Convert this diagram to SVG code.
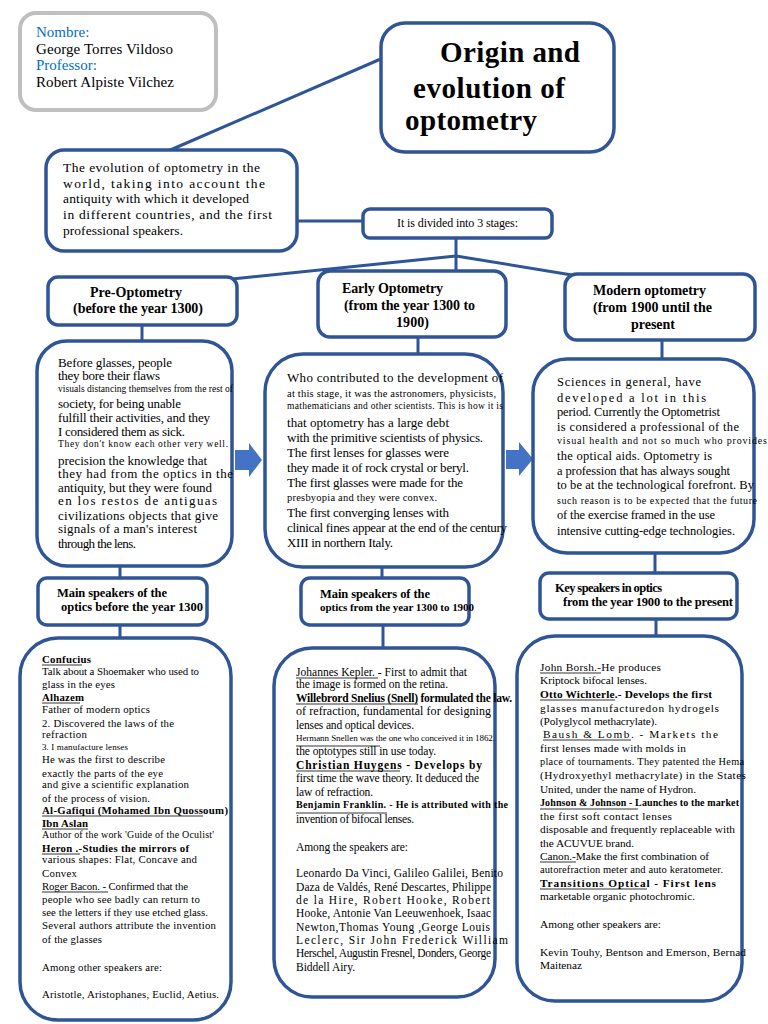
<svg xmlns="http://www.w3.org/2000/svg" width="768" height="1024" viewBox="0 0 768 1024">
<style>
.t{font-family:"Liberation Serif","Times New Roman",serif;fill:#000;font-size:13px}
.b{font-weight:bold}
.s{font-size:11px}
.xs{font-size:9.5px}
.box{fill:#fff;stroke:#2f5597;stroke-width:3.5}
.conn{stroke:#2f5597;stroke-width:3;fill:none}
.ul{stroke:#000;stroke-width:0.8}
.arr{fill:#4472c4}
</style>
<rect width="768" height="1024" fill="#fff"/>
<g id="connectors">
<line class="conn" x1="383" y1="58" x2="168" y2="151"/>
<line class="conn" x1="297" y1="221" x2="364" y2="221"/>
<line class="conn" x1="456" y1="238" x2="456" y2="256"/>
<line class="conn" x1="456" y1="256" x2="232" y2="279"/>
<line class="conn" x1="456" y1="256" x2="456" y2="272"/>
<line class="conn" x1="456" y1="256" x2="578" y2="276"/>
<line class="conn" x1="142" y1="325" x2="142" y2="342"/>
<line class="conn" x1="418" y1="337" x2="418" y2="355"/>
<line class="conn" x1="662" y1="340" x2="662" y2="360"/>
<line class="conn" x1="120" y1="566" x2="120" y2="579"/>
<line class="conn" x1="382" y1="567" x2="382" y2="579"/>
<line class="conn" x1="655" y1="553" x2="655" y2="574"/>
<line class="conn" x1="120" y1="625" x2="120" y2="639"/>
<line class="conn" x1="383" y1="625" x2="383" y2="649"/>
<line class="conn" x1="656" y1="619" x2="656" y2="637"/>
<polygon class="arr" points="235,450 249,450 249,443 262,460 249,477 249,470 235,470"/>
<polygon class="arr" points="506,450 519,450 519,442 533,459 519,476 519,469 506,469"/>
</g>
<g id="info">
<rect x="20" y="13" width="196" height="97" rx="16" fill="#fff" stroke="#bfbfbf" stroke-width="4"/>
<text class="t" x="36" y="37" font-size="15" fill="#0070c0" style="fill:#0070c0;font-size:15px">Nombre:</text>
<text class="t" x="36" y="54" style="font-size:15px" textLength="137">George Torres Vildoso</text>
<text class="t" x="36" y="70" style="fill:#0070c0;font-size:15px">Professor:</text>
<text class="t" x="36" y="87" style="font-size:15px" textLength="138">Robert Alpiste Vilchez</text>
</g>
<g id="title">
<rect class="box" x="381" y="23" width="233" height="129" rx="24"/>
<text class="t b" x="440" y="62" style="font-size:29px" textLength="140">Origin and</text>
<text class="t b" x="413" y="98" style="font-size:29px" textLength="152">evolution of</text>
<text class="t b" x="405" y="130" style="font-size:29px" textLength="132">optometry</text>
</g>
<g id="intro">
<rect class="box" x="46" y="150" width="251" height="101" rx="18"/>
<text class="t" x="63" y="172" style="font-size:13.5px" textLength="197">The evolution of optometry in the</text>
<text class="t" x="63" y="188" style="font-size:13.5px" textLength="202">world, taking into account the</text>
<text class="t" x="63" y="203" style="font-size:13.5px" textLength="186">antiquity with which it developed</text>
<text class="t" x="63" y="219" style="font-size:13.5px" textLength="209">in different countries, and the first</text>
<text class="t" x="63" y="235" style="font-size:13.5px" textLength="120">professional speakers.</text>
</g>
<g id="stages">
<rect class="box" x="363" y="209" width="189" height="29" rx="7"/>
<text class="t" x="397" y="227" style="font-size:12px" textLength="121">It is divided into 3 stages:</text>
</g>
<g id="pre">
<rect class="box" x="48" y="277" width="189" height="48" rx="10"/>
<text class="t b" x="90" y="297" style="font-size:14px" textLength="92">Pre-Optometry</text>
<text class="t b" x="73" y="313" style="font-size:14px" textLength="130">(before the year 1300)</text>
</g>
<g id="early">
<rect class="box" x="318" y="271" width="188" height="66" rx="12"/>
<text class="t b" x="342" y="293" style="font-size:14px" textLength="101">Early Optometry</text>
<text class="t b" x="344" y="310" style="font-size:14px" textLength="131">(from the year 1300 to</text>
<text class="t b" x="396" y="327" style="font-size:14px" textLength="33">1900)</text>
</g>
<g id="modern">
<rect class="box" x="565" y="274" width="190" height="66" rx="12"/>
<text class="t b" x="593" y="295" style="font-size:14px" textLength="113">Modern optometry</text>
<text class="t b" x="593" y="312" style="font-size:14px" textLength="119">(from 1900 until the</text>
<text class="t b" x="631" y="329" style="font-size:14px" textLength="44">present</text>
</g>
<g id="pre-content">
<rect class="box" x="37" y="341" width="195" height="225" rx="30"/>
<text class="t" x="58" y="367" textLength="114">Before glasses, people</text>
<text class="t" x="58" y="380" textLength="102">they bore their flaws</text>
<text class="t xs" x="58" y="392" textLength="175">visuals distancing themselves from the rest of</text>
<text class="t" x="58" y="408" textLength="123">society, for being unable</text>
<text class="t" x="58" y="422" textLength="152">fulfill their activities, and they</text>
<text class="t" x="58" y="436" textLength="127">I considered them as sick.</text>
<text class="t xs" x="58" y="447" textLength="170">They don't know each other very well.</text>
<text class="t" x="58" y="465" textLength="149">precision the knowledge that</text>
<text class="t" x="58" y="478" textLength="175">they had from the optics in the</text>
<text class="t" x="58" y="492" textLength="154">antiquity, but they were found</text>
<text class="t" x="58" y="505" textLength="159">en los restos de antiguas</text>
<text class="t" x="58" y="520" textLength="160">civilizations objects that give</text>
<text class="t" x="58" y="533" textLength="139">signals of a man's interest</text>
<text class="t" x="58" y="548" textLength="78">through the lens.</text>
</g>
<g id="early-content">
<rect class="box" x="265" y="354" width="238" height="213" rx="38"/>
<text class="t" x="287" y="382" textLength="216">Who contributed to the development of</text>
<text class="t" x="287" y="397" style="font-size:10.5px" textLength="209">at this stage, it was the astronomers, physicists,</text>
<text class="t xs" x="287" y="409" textLength="216">mathematicians and other scientists. This is how it is</text>
<text class="t" x="287" y="427" textLength="162">that optometry has a large debt</text>
<text class="t" x="287" y="442" textLength="196">with the primitive scientists of physics.</text>
<text class="t" x="287" y="457" textLength="162">The first lenses for glasses were</text>
<text class="t" x="287" y="472" textLength="182">they made it of rock crystal or beryl.</text>
<text class="t" x="287" y="487" textLength="176">The first glasses were made for the</text>
<text class="t" x="287" y="501" style="font-size:10.5px" textLength="150">presbyopia and they were convex.</text>
<text class="t" x="287" y="517" textLength="162">The first converging lenses with</text>
<text class="t" x="287" y="532" textLength="220">clinical fines appear at the end of the century</text>
<text class="t" x="287" y="547" textLength="106">XIII in northern Italy.</text>
</g>
<g id="modern-content">
<rect class="box" x="533" y="359" width="221" height="194" rx="34"/>
<text class="t" x="557" y="386" style="font-size:12.5px" textLength="144">Sciences in general, have</text>
<text class="t" x="557" y="402" style="font-size:12.5px" textLength="149">developed a lot in this</text>
<text class="t" x="557" y="416" style="font-size:12.5px" textLength="163">period. Currently the Optometrist</text>
<text class="t" x="557" y="431" style="font-size:12.5px" textLength="182">is considered a professional of the</text>
<text class="t" x="557" y="444" style="font-size:10px" textLength="210">visual health and not so much who provides</text>
<text class="t" x="557" y="460" style="font-size:12.5px" textLength="155">the optical aids. Optometry is</text>
<text class="t" x="557" y="475" style="font-size:12.5px" textLength="173">a profession that has always sought</text>
<text class="t" x="557" y="489" style="font-size:12.5px" textLength="197">to be at the technological forefront. By</text>
<text class="t" x="557" y="504" style="font-size:10px" textLength="200">such reason is to be expected that the future</text>
<text class="t" x="557" y="519" style="font-size:12.5px" textLength="158">of the exercise framed in the use</text>
<text class="t" x="557" y="535" style="font-size:12.5px" textLength="178">intensive cutting-edge technologies.</text>
</g>
<g id="pre-speakers-header">
<rect class="box" x="38" y="578" width="169" height="47" rx="9"/>
<text class="t b" x="57" y="597" style="font-size:12.5px" textLength="110">Main speakers of the</text>
<text class="t b" x="61" y="611" style="font-size:12.5px" textLength="142">optics before the year 1300</text>
</g>
<g id="early-speakers-header">
<rect class="box" x="301" y="578" width="168" height="47" rx="9"/>
<text class="t b" x="320" y="598" style="font-size:12.5px" textLength="110">Main speakers of the</text>
<text class="t b" x="320" y="611" style="font-size:11px" textLength="154">optics from the year 1300 to 1900</text>
</g>
<g id="modern-speakers-header">
<rect class="box" x="540" y="573" width="197" height="46" rx="9"/>
<text class="t b" x="555" y="592" style="font-size:12.5px" textLength="107">Key speakers in optics</text>
<text class="t b" x="563" y="606" style="font-size:12.5px" textLength="170">from the year 1900 to the present</text>
</g>
<g id="pre-speakers">
<rect class="box" x="20" y="638" width="211" height="382" rx="38"/>
<g style="font-size:10.8px">
<text class="t b" x="42" y="663" style="font-size:10.8px" textLength="49">Confucius</text>
<text class="t" x="42" y="675" style="font-size:10.8px" textLength="157">Talk about a Shoemaker who used to</text>
<text class="t" x="42" y="688" style="font-size:10.8px" textLength="73">glass in the eyes</text>
<text class="t b" x="42" y="701" style="font-size:10.8px" textLength="42">Alhazem</text>
<text class="t" x="42" y="713" style="font-size:10.8px" textLength="108">Father of modern optics</text>
<text class="t" x="42" y="727" style="font-size:10.8px" textLength="132">2. Discovered the laws of the</text>
<text class="t" x="42" y="738" style="font-size:10.8px" textLength="45">refraction</text>
<text class="t" x="42" y="750" style="font-size:9px" textLength="86">3. I manufacture lenses</text>
<text class="t" x="42" y="763" style="font-size:10.8px" textLength="123">He was the first to describe</text>
<text class="t" x="42" y="777" style="font-size:10.8px" textLength="121">exactly the parts of the eye</text>
<text class="t" x="42" y="788" style="font-size:10.8px" textLength="147">and give a scientific explanation</text>
<text class="t" x="42" y="802" style="font-size:10.8px" textLength="108">of the process of vision.</text>
<text class="t b" x="42" y="814" style="font-size:10.8px" textLength="186">Al-Gafiqui (Mohamed Ibn Quossoum)</text>
<text class="t b" x="42" y="827" style="font-size:10.8px" textLength="46">Ibn Aslan</text>
<text class="t" x="42" y="838" style="font-size:10px" textLength="172">Author of the work 'Guide of the Oculist'</text>
<text class="t b" x="42" y="852" style="font-size:10.8px" textLength="147">Heron .-Studies the mirrors of</text>
<text class="t" x="42" y="863" style="font-size:10.8px" textLength="155">various shapes: Flat, Concave and</text>
<text class="t" x="42" y="877" style="font-size:10.8px" textLength="35">Convex</text>
<text class="t" x="42" y="890" style="font-size:10.8px" textLength="146">Roger Bacon. - Confirmed that the</text>
<text class="t" x="42" y="903" style="font-size:10.8px" textLength="158">people who see badly can return to</text>
<text class="t" x="42" y="916" style="font-size:10.8px" textLength="166">see the letters if they use etched glass.</text>
<text class="t" x="42" y="929" style="font-size:10.8px" textLength="174">Several authors attribute the invention</text>
<text class="t" x="42" y="943" style="font-size:10.8px" textLength="60">of the glasses</text>
<text class="t" x="42" y="971" style="font-size:10.8px" textLength="120">Among other speakers are:</text>
<text class="t" x="42" y="998" style="font-size:10.8px" textLength="177">Aristotle, Aristophanes, Euclid, Aetius.</text>
</g>
<line class="ul" x1="42" y1="665" x2="82" y2="665"/>
<line class="ul" x1="42" y1="703" x2="80" y2="703"/>
<line class="ul" x1="42" y1="816" x2="203" y2="816"/>
<line class="ul" x1="42" y1="829" x2="88" y2="829"/>
<line class="ul" x1="42" y1="854" x2="80" y2="854"/>
<line class="ul" x1="42" y1="892" x2="108" y2="892"/>
</g>
<g id="early-speakers">
<rect class="box" x="274" y="648" width="221" height="349" rx="38"/>
<text class="t" x="296" y="676" style="font-size:11.5px" textLength="171">Johannes Kepler. - First to admit that</text>
<text class="t" x="296" y="688" style="font-size:11.5px" textLength="152">the image is formed on the retina.</text>
<text class="t b" x="296" y="702" style="font-size:11.5px" textLength="216">Willebrord Snelius (Snell) formulated the law.</text>
<text class="t" x="296" y="715" style="font-size:12px" textLength="195">of refraction, fundamental for designing</text>
<text class="t" x="296" y="729" style="font-size:11.5px" textLength="118">lenses and optical devices.</text>
<text class="t" x="296" y="741" style="font-size:9px" textLength="199">Hermann Snellen was the one who conceived it in 1862.</text>
<text class="t" x="296" y="755" style="font-size:11.5px" textLength="140">the optotypes still in use today.</text>
<text class="t b" x="296" y="769" style="font-size:11.5px" textLength="186">Christian Huygens - Develops by</text>
<text class="t" x="296" y="782" style="font-size:11.5px" textLength="183">first time the wave theory. It deduced the</text>
<text class="t" x="296" y="796" style="font-size:11.5px" textLength="77">law of refraction.</text>
<text class="t b" x="296" y="808" style="font-size:10px" textLength="212">Benjamin Franklin. - He is attributed with the</text>
<text class="t" x="296" y="823" style="font-size:11.5px" textLength="118">invention of bifocal lenses.</text>
<text class="t" x="296" y="851" style="font-size:11.5px" textLength="112">Among the speakers are:</text>
<text class="t" x="296" y="877" style="font-size:11.5px" textLength="207">Leonardo Da Vinci, Galileo Galilei, Benito</text>
<text class="t" x="296" y="891" style="font-size:11.5px" textLength="195">Daza de Valdés, René Descartes, Philippe</text>
<text class="t" x="296" y="904" style="font-size:11.5px" textLength="194">de la Hire, Robert Hooke, Robert</text>
<text class="t" x="296" y="917" style="font-size:11.5px" textLength="195">Hooke, Antonie Van Leeuwenhoek, Isaac</text>
<text class="t" x="296" y="931" style="font-size:11.5px" textLength="194">Newton,Thomas Young ,George Louis</text>
<text class="t" x="296" y="944" style="font-size:11.5px" textLength="212">Leclerc, Sir John Frederick William</text>
<text class="t" x="296" y="957" style="font-size:11.5px" textLength="195">Herschel, Augustin Fresnel, Donders, George</text>
<text class="t" x="296" y="971" style="font-size:11.5px" textLength="59">Biddell Airy.</text>
<line class="ul" x1="296" y1="678" x2="378" y2="678"/>
<line class="ul" x1="296" y1="704" x2="418" y2="704"/>
<line class="ul" x1="296" y1="746" x2="380" y2="746"/>
<line class="ul" x1="296" y1="771" x2="400" y2="771"/>
<line class="ul" x1="296" y1="813" x2="387" y2="813"/>
</g>
<g id="modern-speakers">
<rect class="box" x="517" y="636" width="225" height="365" rx="38"/>
<text class="t" x="540" y="671" style="font-size:11.3px" textLength="121">John Borsh.-He produces</text>
<text class="t" x="540" y="684" style="font-size:11.3px" textLength="107">Kriptock bifocal lenses.</text>
<text class="t b" x="540" y="698" style="font-size:11.3px" textLength="172">Otto Wichterle.- Develops the first</text>
<text class="t" x="540" y="712" style="font-size:11.3px" textLength="179">glasses manufacturedon hydrogels</text>
<text class="t" x="540" y="725" style="font-size:11.3px" textLength="117">(Polyglycol methacrylate).</text>
<text class="t" x="543" y="738" style="font-size:11.3px" textLength="175">Baush &amp; Lomb. - Markets the</text>
<text class="t" x="540" y="752" style="font-size:11.3px" textLength="146">first lenses made with molds in</text>
<text class="t" x="540" y="765" style="font-size:10.3px" textLength="204">place of tournaments. They patented the Hema</text>
<text class="t" x="540" y="779" style="font-size:11.3px" textLength="206">(Hydroxyethyl methacrylate) in the States</text>
<text class="t" x="540" y="793" style="font-size:11.3px" textLength="156">United, under the name of Hydron.</text>
<text class="t b" x="540" y="806" style="font-size:10px" textLength="199">Johnson &amp; Johnson - Launches to the market</text>
<text class="t" x="540" y="820" style="font-size:11.3px" textLength="132">the first soft contact lenses</text>
<text class="t" x="540" y="833" style="font-size:11.3px" textLength="195">disposable and frequently replaceable with</text>
<text class="t" x="540" y="847" style="font-size:11.3px" textLength="94">the ACUVUE brand.</text>
<text class="t" x="540" y="860" style="font-size:11.3px" textLength="169">Canon.-Make the first combination of</text>
<text class="t" x="540" y="873" style="font-size:10.5px" textLength="183">autorefraction meter and auto keratometer.</text>
<text class="t b" x="540" y="887" style="font-size:11.3px" textLength="176">Transitions Optical - First lens</text>
<text class="t" x="540" y="900" style="font-size:11.3px" textLength="155">marketable organic photochromic.</text>
<text class="t" x="540" y="928" style="font-size:11.3px" textLength="121">Among other speakers are:</text>
<text class="t" x="540" y="956" style="font-size:11.3px" textLength="206">Kevin Touhy, Bentson and Emerson, Bernad</text>
<text class="t" x="540" y="969" style="font-size:11.3px" textLength="42">Maitenaz</text>
<line class="ul" x1="540" y1="673" x2="601" y2="673"/>
<line class="ul" x1="540" y1="700" x2="615" y2="700"/>
<line class="ul" x1="543" y1="740" x2="631" y2="740"/>
<line class="ul" x1="540" y1="809" x2="638" y2="809"/>
<line class="ul" x1="540" y1="862" x2="576" y2="862"/>
<line class="ul" x1="540" y1="889" x2="647" y2="889"/>
</g>
</svg>
